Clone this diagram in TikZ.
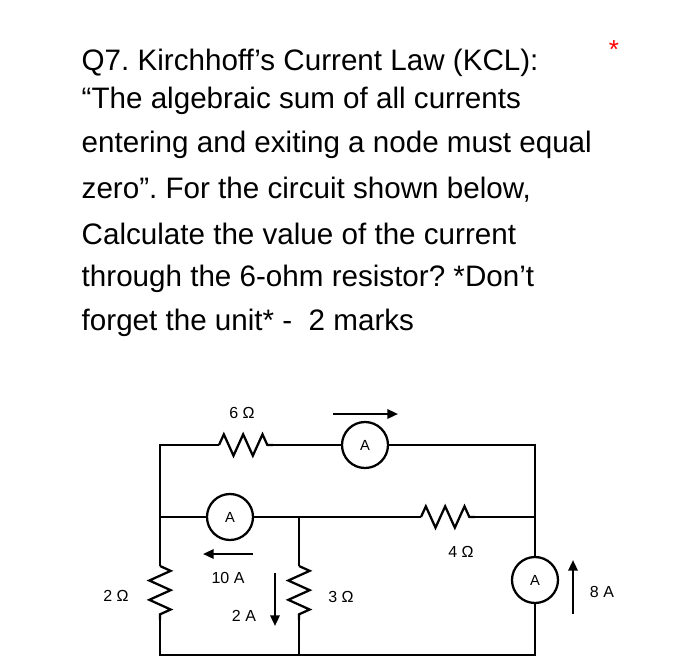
\documentclass[tikz,border=0pt]{standalone}
\usepackage{fontspec}
\setmainfont{Liberation Sans}
\frenchspacing
\usetikzlibrary{decorations.pathmorphing,arrows.meta}
\begin{document}
\begin{tikzpicture}[x=0.75pt,y=-0.75pt,
  wire/.style={line width=1.7pt},
  res/.style={line width=1.7pt,decorate,decoration={zigzag,segment length=14.5pt,amplitude=8pt,pre length=0pt,post length=0pt}},
  amm/.style={circle,draw,line width=1.7pt,minimum size=34.5pt,inner sep=0pt,fill=white,font=\fontsize{11}{13}\selectfont},
  lbl/.style={font=\fontsize{12}{14}\selectfont},
  q/.style={anchor=west,font=\fontsize{22.2}{26}\selectfont},
  cur/.style={line width=1.7pt,-{Triangle[length=8pt,width=7pt]}}]
\useasboundingbox (0,0) rectangle (700,658);
\fill[white] (0,0) rectangle (700,658);
\node[q] (l1) at (77,63) {Q7. Kirchhoff’s Current Law (KCL):};
\node[q] (l2) at (77,101) {“The algebraic sum of all currents};
\node[q] (l3) at (77,145) {entering and exiting a node must equal};
\node[q] (l4) at (77,190) {zero”. For the circuit shown below,};
\node[q] (l5) at (77,234) {Calculate the value of the current};
\node[q] (l6) at (77,279) {through the 6-ohm resistor? *Don't};
\node[q] (l7) at (77,323) {forget the unit* -\ \ 2 marks};
\node[text=red,font=\fontsize{19.5}{23}\selectfont] (star) at (614,50) {*};
% corners
\coordinate (tl) at (160,445); \coordinate (tr) at (535,445);
\coordinate (ml) at (160,517); \coordinate (mm) at (299,517); \coordinate (mr) at (535,517);
\coordinate (bl) at (160,655); \coordinate (bm) at (299,655); \coordinate (br) at (535,655);
\coordinate (r6a) at (219,445); \coordinate (r6b) at (273,445);
\coordinate (r4a) at (421,517); \coordinate (r4b) at (475,517);
\coordinate (r2a) at (160,566); \coordinate (r2b) at (160,620);
\coordinate (r3a) at (299,566); \coordinate (r3b) at (299,620);
\node[amm] (a1) at (365,445) {A};
\node[amm] (a2) at (230,517) {A};
\node[amm] (a3) at (535,580) {A};
\draw[wire] (r6b) -- (a1) -- (tr) -- (mr) -- (a3) -- (br) -- (bm) -- (bl) -- (r2b);
\draw[wire] (r2a) -- (ml) -- (tl) -- (r6a);
\draw[wire] (ml) -- (a2) -- (mm) -- (r4a); \draw[wire] (r4b) -- (mr);
\draw[wire] (mm) -- (r3a); \draw[wire] (r3b) -- (bm);
\draw[res] (r6a) -- (r6b); \draw[res] (r4a) -- (r4b);
\draw[res] (r2a) -- (r2b); \draw[res] (r3a) -- (r3b);
% arrows
\coordinate (t1) at (333,414); \coordinate (t2) at (398,414);
\draw[cur] (t1) -- (t2);
\coordinate (c1) at (253,554); \coordinate (c2) at (203,554);
\draw[cur] (c1) -- (c2);
\coordinate (d1) at (275,573); \coordinate (d2) at (275,626);
\draw[cur] (d1) -- (d2);
\coordinate (e1) at (573,614); \coordinate (e2) at (573,560);
\draw[cur] (e1) -- (e2);
\node[lbl] (L6) at (242,413) {6 Ω};
\node[lbl] (L10) at (228,578) {10 A};
\node[lbl] (L2A) at (244,616) {2 A};
\node[lbl] (L3) at (341,597) {3 Ω};
\node[lbl] (L2) at (116,596) {2 Ω};
\node[lbl] (L4) at (461,552) {4 Ω};
\node[lbl] (L8) at (602,592) {8 A};
\end{tikzpicture}
\end{document}
